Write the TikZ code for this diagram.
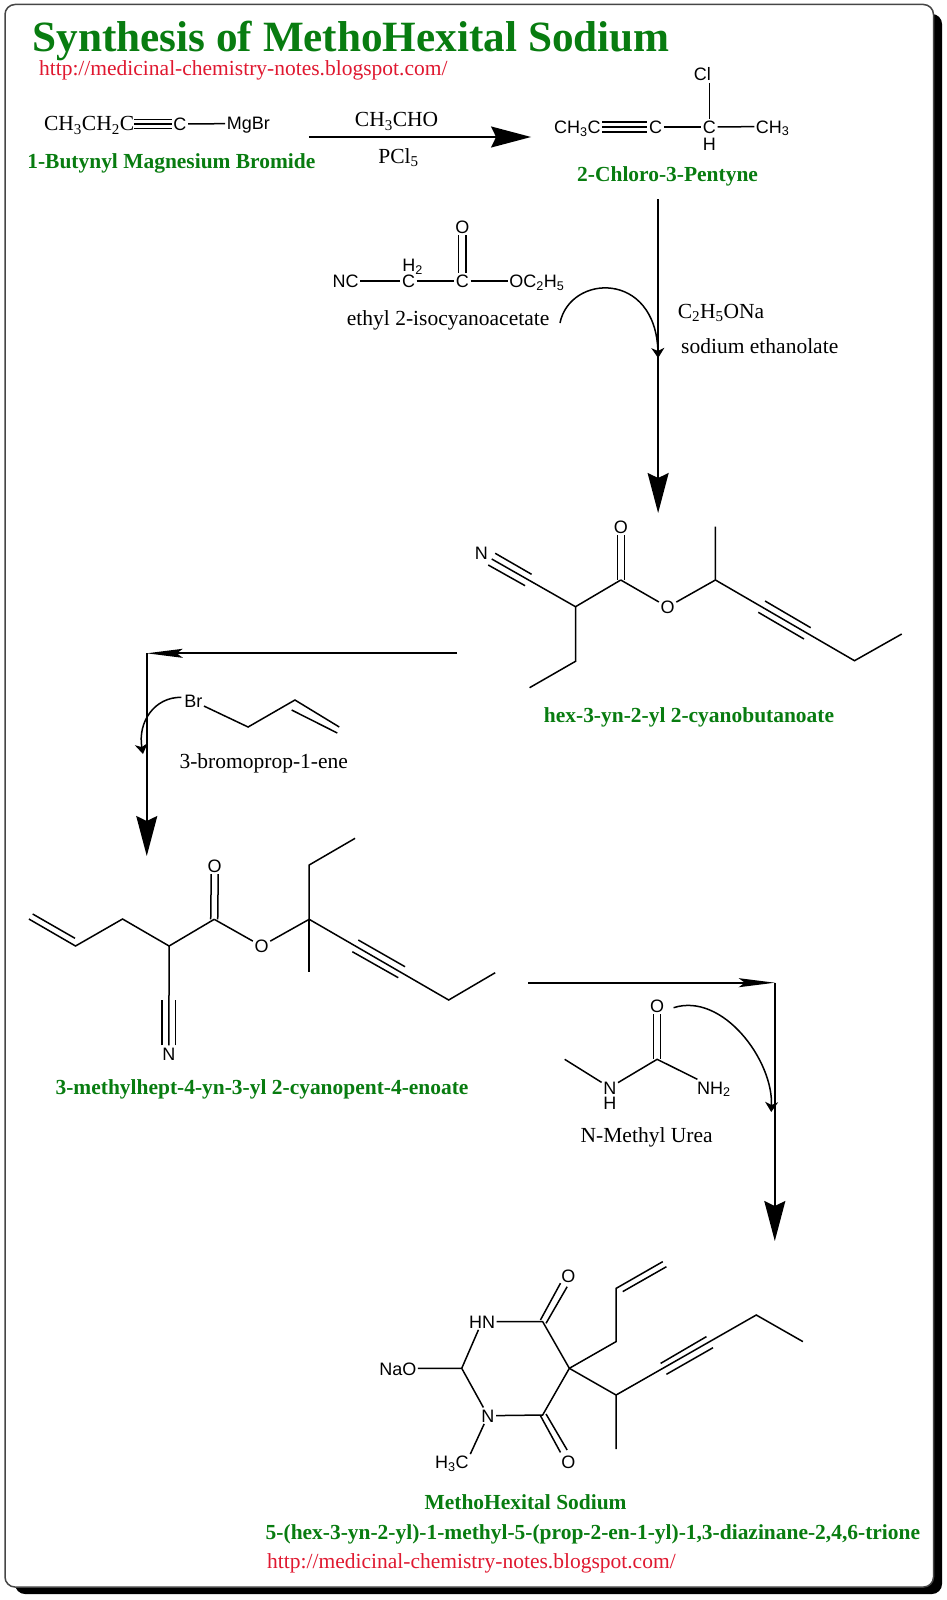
\documentclass[tikz,border=0pt]{standalone}
\usepackage{fontspec}
\setmainfont{Liberation Serif}
\newfontfamily\atomfont{Liberation Sans}
\usetikzlibrary{arrows.meta}
\definecolor{namegreen}{RGB}{8,124,16}
\definecolor{urlred}{RGB}{224,24,48}
\definecolor{framegray}{RGB}{70,70,70}
\tikzset{
	atom/.style={font=\atomfont\fontsize{18}{20}\selectfont,inner sep=1.5pt,text height=13pt,text depth=0pt},
	bond/.style={line width=1.5pt},
	reagent/.style={font=\fontsize{21.5}{24}\selectfont,inner sep=0,text height=14pt,text depth=0pt},
	compound/.style={font=\bfseries\fontsize{21.45}{24}\selectfont,text=namegreen,inner sep=0,text height=14pt,text depth=0pt},
	weburl/.style={font=\fontsize{21.5}{24}\selectfont,text=urlred,inner sep=0,text height=14pt,text depth=0pt},
	flow/.style={line width=1.7pt},
	bighead/.style={flow,-{Stealth[length=40pt,width=21pt,inset=5pt]}},
	thinhead/.style={flow,-{Stealth[length=36pt,width=9pt,inset=6pt]}},
	curvehead/.style={line width=1.5pt,-{Stealth[length=10pt,width=13pt,inset=3pt]}}
}
\begin{document}
\begin{tikzpicture}[x=0.9964pt,y=-1pt]
	\useasboundingbox (0pt,0pt) rectangle (946pt,-1600pt);
	\fill[black,rounded corners=10pt] (15pt,-14pt) rectangle (942pt,-1594pt);
	\draw[framegray,fill=white,rounded corners=10pt,line width=1.5pt] (5pt,-4.5pt) rectangle (933.5pt,-1587pt);

	\node[inner sep=0,anchor=base west,font=\bfseries\fontsize{43.2}{48}\selectfont,text=namegreen] (title) at (32.5,52) {Synthesis of MethoHexital Sodium};
	\node[weburl,anchor=west] (url1) at (39,69) {http://medicinal-chemistry-notes.blogspot.com/};

	% butynyl bromide
	\node[reagent,anchor=west] (b1) at (44,124) {CH\textsubscript{3}CH\textsubscript{2}C};
	\node[atom] (b2) at (180.5,124) {C};
	\node[atom,anchor=west] (b3) at (226,123.5) {MgBr};
	\draw[bond] (b1.east) -- (b2);
	\draw[bond] ([yshift=4.6pt]b1.east) -- ([yshift=4.6pt]b2.west);
	\draw[bond] ([yshift=-4.6pt]b1.east) -- ([yshift=-4.6pt]b2.west);
	\draw[bond] (b2) -- (b3);
	\node[compound] (b4) at (172,161) {1-Butynyl Magnesium Bromide};

	\coordinate (r1) at (310,137);
	\coordinate (r2) at (533,137);
	\draw[bighead] (r1) -- (r2);
	\node[reagent] (r3) at (398,120) {CH\textsubscript{3}CHO};
	\node[reagent] (r4) at (400,156) {PCl\textsubscript{5}};

	% chloropentyne
	\node[atom,anchor=west] (p1) at (554.5,127) {CH\textsubscript{3}C};
	\node[atom] (p2) at (658,127) {C};
	\node[atom] (p3) at (712,127) {C};
	\node[atom] (p4) at (712,144) {H};
	\node[atom] (p5) at (705,74) {Cl};
	\node[atom,anchor=west] (p6) at (757,126.5) {CH\textsubscript{3}};
	\coordinate (p7) at (712,83);
	\draw[bond] (p1.east) -- (p2);
	\draw[bond] ([yshift=5.2pt]p1.east) -- ([yshift=5.2pt]p2.west);
	\draw[bond] ([yshift=-5.2pt]p1.east) -- ([yshift=-5.2pt]p2.west);
	\draw[bond] (p2) -- (p3);
	\draw[bond] (p3) -- (p6);
	\draw[bond] (p7) -- (p3);
	\node[compound] (p8) at (670,174.5) {2-Chloro-3-Pentyne};

	\coordinate (s1) at (660.5,199);
	\coordinate (s2) at (660.5,513);
	\draw[bighead] (s1) -- (s2);

	% cyanoacetate
	\node[atom,anchor=west] (e1) at (332,281) {NC};
	\node[atom] (e2) at (410,281) {C};
	\node[atom] (e3) at (414,265) {H\textsubscript{2}};
	\node[atom] (e4) at (464,281) {C};
	\node[atom] (e5) at (464,227) {O};
	\node[atom,anchor=west] (e6) at (509.5,281) {OC\textsubscript{2}H\textsubscript{5}};
	\draw[bond] (e1) -- (e2);
	\draw[bond] (e2) -- (e4);
	\draw[bond] (e4) -- (e6);
	\draw[bond] ([xshift=-3.7pt]e5.south) -- ([xshift=-3.7pt]e4.north);
	\draw[bond] ([xshift=3.7pt]e5.south) -- ([xshift=3.7pt]e4.north);
	\node[reagent,anchor=west] (e7) at (348,318.5) {ethyl 2-isocyanoacetate};
	\node[reagent,anchor=west] (e8) at (680,311.5) {C\textsubscript{2}H\textsubscript{5}ONa};
	\node[reagent,anchor=west] (e9) at (683.5,346) {sodium ethanolate};
	\coordinate (e10) at (562,323);
	\coordinate (e11) at (660.5,358);
	\draw[curvehead] (e10) .. controls (572,274) and (658,270) .. (e11);

	% cyanobutanoate
	\node[atom] (h1) at (483,553) {N};
	\node[atom] (h2) at (623,527) {O};
	\node[atom] (h3) at (670,607) {O};
	\coordinate (h4) at (577.6,606.7);
	\coordinate (h5) at (623,580);
	\coordinate (h6) at (718,580);
	\coordinate (h7) at (718,526.7);
	\coordinate (h8) at (857.6,660.7);
	\coordinate (h9) at (905,634);
	\coordinate (h10) at (577.6,661.3);
	\coordinate (h11) at (531.5,687.7);
	\coordinate (h12) at (493.5,559);
	\coordinate (h13) at (497,553.3);
	\coordinate (h14) at (533.5,574.3);
	\coordinate (h15) at (490,565);
	\coordinate (h16) at (527,585.7);
	\coordinate (h17) at (767.8,601);
	\coordinate (h18) at (813.6,627.7);
	\coordinate (h19) at (761,612.3);
	\coordinate (h20) at (806.9,639);
	\draw[bond] (h12) -- (h4) -- (h5);
	\draw[bond] (h13) -- (h14);
	\draw[bond] (h15) -- (h16);
	\draw[bond] ([xshift=-3.5pt]h2.south) -- ([xshift=-3.5pt]h5);
	\draw[bond] ([xshift=3.5pt]h2.south) -- ([xshift=3.5pt]h5);
	\draw[bond] (h5) -- (h3) -- (h6) -- (h7);
	\draw[bond] (h6) -- (h8) -- (h9);
	\draw[bond] (h17) -- (h18);
	\draw[bond] (h19) -- (h20);
	\draw[bond] (h4) -- (h10) -- (h11);
	\node[compound] (h21) at (691.5,715.5) {hex-3-yn-2-yl 2-cyanobutanoate};

	\coordinate (t1) at (458.8,653.3);
	\coordinate (t2) at (147.3,653.3);
	\coordinate (t3) at (147.3,856);
	\draw[thinhead] (t1) -- (t2);
	\draw[bighead] (t2) -- (t3);

	% bromopropene
	\node[atom] (m1) at (194,701) {Br};
	\coordinate (m2) at (249,727);
	\coordinate (m3) at (296,700);
	\coordinate (m4) at (340.5,727);
	\coordinate (m5) at (292.7,710);
	\coordinate (m6) at (338.5,733);
	\draw[bond] (m1) -- (m2) -- (m3) -- (m4);
	\draw[bond] (m5) -- (m6);
	\node[reagent,anchor=west] (m7) at (180,761) {3-bromoprop-1-ene};
	\coordinate (m8) at (182,697.3);
	\coordinate (m9) at (143.5,754);
	\draw[curvehead] (m8) .. controls (155,697) and (138,722) .. (m9);

	% cyanopentenoate
	\coordinate (k1) at (29,919);
	\coordinate (k2) at (75.8,946);
	\coordinate (k3) at (32.8,914);
	\coordinate (k4) at (75.3,938.3);
	\coordinate (k5) at (123,919);
	\coordinate (k6) at (169.7,946);
	\coordinate (k7) at (215,919.3);
	\node[atom] (k8) at (215.5,866) {O};
	\node[atom] (k9) at (262.5,946) {O};
	\coordinate (k10) at (310.3,919.3);
	\coordinate (k11) at (310.3,865);
	\coordinate (k12) at (356.4,838.3);
	\coordinate (k13) at (310.3,972.3);
	\coordinate (k14) at (450.3,1000);
	\coordinate (k15) at (497,972.7);
	\coordinate (k16) at (359.6,940);
	\coordinate (k17) at (406.5,966.7);
	\coordinate (k18) at (353.6,951.7);
	\coordinate (k19) at (399.7,977.7);
	\node[atom] (k20) at (169.5,1053.5) {N};
	\draw[bond] (k1) -- (k2) -- (k5) -- (k6) -- (k7);
	\draw[bond] (k3) -- (k4);
	\draw[bond] ([xshift=-3.5pt]k8.south) -- ([xshift=-3.5pt]k7);
	\draw[bond] ([xshift=3.5pt]k8.south) -- ([xshift=3.5pt]k7);
	\draw[bond] (k7) -- (k9) -- (k10) -- (k11) -- (k12);
	\draw[bond] (k10) -- (k13);
	\draw[bond] (k10) -- (k14) -- (k15);
	\draw[bond] (k16) -- (k17);
	\draw[bond] (k18) -- (k19);
	\draw[bond] (k6) -- (k20);
	\draw[bond] ([xshift=-6.7pt]k20.north) -- ++(0,-45);
	\draw[bond] ([xshift=6.7pt]k20.north) -- ++(0,-45);
	\node[compound] (k21) at (263,1087) {3-methylhept-4-yn-3-yl 2-cyanopent-4-enoate};

	\coordinate (u1) at (530,982.7);
	\coordinate (u2) at (777.6,982.7);
	\coordinate (u3) at (777.6,1241);
	\draw[thinhead] (u1) -- (u2);
	\draw[bighead] (u2) -- (u3);

	% methyl urea
	\node[atom] (n1) at (659.5,1006) {O};
	\coordinate (n2) at (659.5,1059.3);
	\node[atom] (n3) at (612,1087.5) {N};
	\node[atom] (n4) at (612,1103) {H};
	\coordinate (n5) at (566.7,1059.3);
	\node[atom,anchor=west] (n6) at (698,1087.5) {NH\textsubscript{2}};
	\draw[bond] ([xshift=-3.5pt]n1.south) -- ([xshift=-3.5pt]n2);
	\draw[bond] ([xshift=3.5pt]n1.south) -- ([xshift=3.5pt]n2);
	\draw[bond] (n5) -- (n3) -- (n2) -- (n6);
	\node[reagent] (n7) at (649,1135.5) {N-Methyl Urea};
	\coordinate (n8) at (676,1007.7);
	\coordinate (n9) at (774,1112);
	\draw[curvehead] (n8) .. controls (725,992) and (776,1060) .. (n9);

	% methohexital
	\coordinate (c1) at (571.4,1368.3);
	\coordinate (c2) at (544.6,1321.6);
	\coordinate (c3) at (544.6,1415);
	\coordinate (c4) at (463.4,1368.3);
	\node[atom,anchor=east] (c5) at (498.5,1321.6) {HN};
	\node[atom] (c6) at (489.7,1415.7) {N};
	\node[atom,anchor=east] (c7) at (419.5,1368.5) {NaO};
	\node[atom] (c8) at (570.5,1276) {O};
	\node[atom] (c9) at (570.5,1461.7) {O};
	\node[atom,anchor=east] (c10) at (472,1462.3) {H\textsubscript{3}C};
	\coordinate (c11) at (542.4,1320);
	\coordinate (c12) at (562.5,1283.2);
	\coordinate (c13) at (548,1323.3);
	\coordinate (c14) at (569.2,1286.7);
	\coordinate (c15) at (542.4,1415.7);
	\coordinate (c16) at (562.5,1452.4);
	\coordinate (c17) at (548,1414);
	\coordinate (c18) at (569.2,1450);
	\coordinate (c19) at (618.3,1341.6);
	\coordinate (c20) at (618.3,1288.4);
	\coordinate (c21) at (665.2,1261.6);
	\coordinate (c22) at (625,1291.6);
	\coordinate (c23) at (668.8,1266.7);
	\coordinate (c24) at (618.3,1395);
	\coordinate (c25) at (618.3,1449);
	\coordinate (c26) at (759,1315);
	\coordinate (c27) at (805.8,1341.6);
	\coordinate (c28) at (663,1363.4);
	\coordinate (c29) at (709,1336.6);
	\coordinate (c30) at (668.8,1374.3);
	\coordinate (c31) at (715.6,1347.7);
	\draw[bond] (c5) -- (c2) -- (c1) -- (c3) -- (c6) -- (c4) -- (c5);
	\draw[bond] (c7) -- (c4);
	\draw[bond] (c6) -- (c10.north east);
	\draw[bond] (c11) -- (c12);
	\draw[bond] (c13) -- (c14);
	\draw[bond] (c15) -- (c16);
	\draw[bond] (c17) -- (c18);
	\draw[bond] (c1) -- (c19) -- (c20) -- (c21);
	\draw[bond] (c22) -- (c23);
	\draw[bond] (c1) -- (c24) -- (c25);
	\draw[bond] (c24) -- (c26) -- (c27);
	\draw[bond] (c28) -- (c29);
	\draw[bond] (c30) -- (c31);
	\node[compound] (c32) at (527.5,1502.5) {MethoHexital Sodium};
	\node[compound,anchor=west] (c33) at (266.5,1532.8) {5-(hex-3-yn-2-yl)-1-methyl-5-(prop-2-en-1-yl)-1,3-diazinane-2,4,6-trione};
	\node[weburl,anchor=west] (url2) at (268,1561.5) {http://medicinal-chemistry-notes.blogspot.com/};
\end{tikzpicture}
\end{document}
